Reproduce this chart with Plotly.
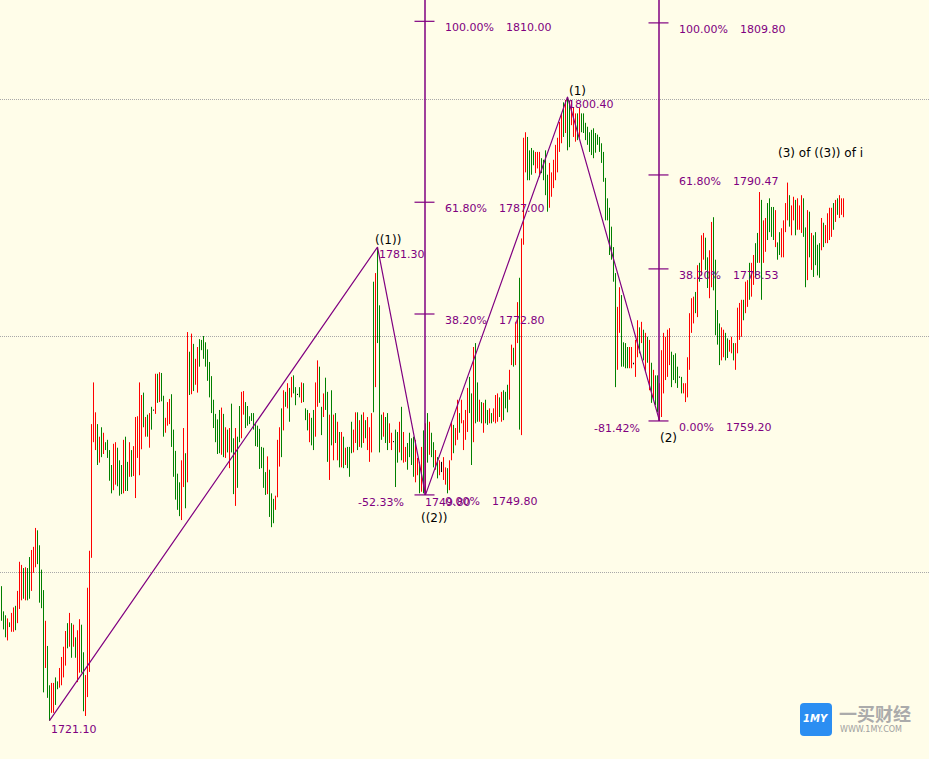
import plotly.graph_objects as go

# ---------------- data ----------------
bar_high = [
    1738.2, 1735.0, 1734.5, 1734.1, 1733.6, 1734.8, 1735.5, 1735.7, 1737.6, 1741.3,
    1740.9, 1740.5, 1740.6, 1740.5, 1741.9, 1742.8, 1743.2, 1745.6, 1745.3, 1743.4,
    1740.3, 1737.7, 1733.8, 1730.6, 1725.6, 1725.9, 1725.9, 1726.6, 1726.1, 1727.8,
    1729.2, 1730.5, 1732.5, 1733.5, 1734.8, 1733.5, 1733.3, 1731.7, 1732.6, 1734.0,
    1733.3, 1729.8, 1726.9, 1738.0, 1742.7, 1758.8, 1764.1, 1760.3, 1758.8, 1757.2,
    1758.4, 1757.7, 1756.5, 1756.8, 1755.5, 1753.6, 1756.3, 1756.5, 1755.8, 1754.2,
    1753.6, 1756.8, 1757.2, 1754.0, 1756.5, 1755.5, 1756.0, 1759.7, 1759.8, 1764.1,
    1762.5, 1762.8, 1759.7, 1760.0, 1760.2, 1761.0, 1760.6, 1765.2, 1765.2, 1765.4,
    1765.3, 1762.4, 1759.6, 1761.6, 1762.0, 1762.6, 1758.1, 1755.4, 1752.5, 1751.4,
    1754.2, 1758.3, 1755.1, 1770.5, 1768.0, 1770.3, 1769.0, 1767.1, 1768.6, 1769.6,
    1769.5, 1770.0, 1769.2, 1768.3, 1766.7, 1764.9, 1761.9, 1760.1, 1759.4, 1760.6,
    1760.9, 1760.1, 1758.4, 1758.1, 1758.3, 1761.4, 1757.0, 1758.3, 1757.2, 1761.1,
    1762.9, 1763.0, 1761.6, 1761.1, 1759.8, 1760.2, 1760.2, 1758.8, 1758.6, 1758.2,
    1755.9, 1755.8, 1752.7, 1754.7, 1753.0, 1750.0, 1749.3, 1749.7, 1756.8, 1758.4,
    1760.8, 1763.1, 1762.9, 1764.0, 1763.4, 1764.8, 1765.0, 1763.5, 1762.6, 1763.5,
    1764.1, 1764.0, 1760.8, 1760.6, 1760.2, 1759.6, 1760.6, 1764.1, 1766.9, 1766.1,
    1761.0, 1762.7, 1764.7, 1762.9, 1760.0, 1763.1, 1760.0, 1760.2, 1759.1, 1757.8,
    1757.8, 1757.2, 1755.8, 1755.9, 1755.9, 1759.1, 1758.1, 1760.3, 1760.3, 1759.3,
    1760.0, 1760.3, 1759.3, 1759.7, 1758.4, 1760.2, 1776.9, 1778.0, 1781.3, 1773.9,
    1760.0, 1760.3, 1759.7, 1760.2, 1758.9, 1757.7, 1756.6, 1758.1, 1757.8, 1759.1,
    1761.0, 1757.8, 1755.9, 1756.4, 1757.7, 1757.0, 1757.2, 1756.8, 1754.5, 1754.0,
    1755.9, 1758.0, 1758.9, 1760.2, 1759.1, 1757.7, 1756.5, 1755.5, 1754.6, 1754.2,
    1754.0, 1754.6, 1753.3, 1753.2, 1754.2, 1759.1, 1758.7, 1758.3, 1761.9, 1760.2,
    1761.9, 1759.3, 1760.6, 1763.4, 1764.8, 1762.7, 1768.6, 1769.1, 1764.1, 1761.9,
    1761.6, 1761.5, 1761.9, 1760.6, 1760.8, 1760.2, 1760.8, 1762.5, 1762.7, 1762.2,
    1762.9, 1763.1, 1762.9, 1763.8, 1765.7, 1768.9, 1768.5, 1771.8, 1774.3, 1777.4,
    1782.4, 1795.2, 1795.9, 1795.3, 1793.6, 1793.9, 1793.6, 1793.4, 1793.4, 1793.4,
    1792.6, 1792.4, 1793.6, 1790.5, 1792.0, 1790.8, 1792.4, 1794.3, 1795.2, 1797.2,
    1798.3, 1799.7, 1800.0, 1800.4, 1799.9, 1800.0, 1799.1, 1798.3, 1798.3, 1799.0,
    1798.3, 1798.3, 1797.1, 1796.6, 1795.9, 1796.2, 1796.4, 1795.8, 1795.6, 1795.3,
    1794.5, 1793.4, 1790.1, 1787.5, 1786.3, 1783.9, 1781.3, 1778.0, 1773.7, 1776.2,
    1775.2, 1769.2, 1769.1, 1768.6, 1768.6, 1768.6, 1766.6, 1769.5, 1772.0, 1771.1,
    1771.8, 1770.8, 1770.4, 1769.9, 1769.5, 1766.6, 1765.7, 1765.0, 1765.0, 1764.0,
    1768.2, 1770.4, 1769.9, 1770.8, 1771.0, 1768.0, 1767.6, 1767.8, 1766.1, 1764.8,
    1764.8, 1764.0, 1764.0, 1767.3, 1772.9, 1774.8, 1775.0, 1775.6, 1779.0, 1779.3,
    1782.8, 1783.1, 1782.5, 1780.0, 1780.9, 1784.5, 1785.1, 1779.7, 1773.3, 1771.6,
    1771.1, 1770.8, 1770.4, 1769.7, 1769.5, 1769.9, 1769.1, 1769.1, 1773.6, 1774.2,
    1774.6, 1774.6, 1776.9, 1777.1, 1779.3, 1779.3, 1780.3, 1781.8, 1783.1, 1788.3,
    1787.3, 1784.7, 1785.0, 1786.9, 1787.5, 1786.4, 1786.4, 1786.0, 1781.9, 1783.2,
    1783.7, 1784.7, 1786.9, 1789.5, 1787.9, 1786.6, 1787.7, 1787.3, 1787.5, 1786.6,
    1787.9, 1787.5, 1783.8, 1786.0, 1785.8, 1783.1, 1782.8, 1783.2, 1781.6, 1781.8,
    1785.0, 1784.4, 1784.1, 1785.6, 1786.3, 1786.3, 1786.9, 1787.3, 1787.5, 1787.9,
    1787.5, 1787.5,
]
bar_low = [
    1733.8, 1732.7, 1731.7, 1731.3, 1733.0, 1732.4, 1732.4, 1732.6, 1733.5, 1735.3,
    1736.4, 1736.6, 1736.4, 1736.4, 1736.6, 1737.6, 1739.9, 1740.6, 1741.0, 1736.1,
    1735.4, 1724.7, 1727.8, 1724.0, 1721.1, 1722.1, 1722.1, 1723.1, 1725.1, 1725.3,
    1725.6, 1726.6, 1728.1, 1730.3, 1730.5, 1729.1, 1730.5, 1729.1, 1726.0, 1727.2,
    1727.2, 1722.3, 1721.7, 1724.1, 1727.3, 1741.8, 1756.5, 1755.5, 1753.6, 1753.9,
    1754.6, 1755.0, 1755.5, 1754.5, 1751.6, 1750.0, 1750.4, 1751.1, 1750.9, 1749.7,
    1749.9, 1750.0, 1750.3, 1750.3, 1752.1, 1752.1, 1752.2, 1749.4, 1754.5, 1752.3,
    1755.6, 1758.4, 1757.2, 1757.2, 1755.8, 1758.1, 1760.5, 1760.1, 1761.5, 1761.6,
    1761.7, 1757.2, 1757.7, 1758.6, 1758.8, 1755.9, 1752.1, 1749.2, 1747.9, 1747.1,
    1746.6, 1750.8, 1748.1, 1751.4, 1762.5, 1762.6, 1763.0, 1763.8, 1762.8, 1766.1,
    1768.2, 1767.1, 1766.1, 1764.3, 1762.2, 1760.2, 1758.3, 1756.5, 1755.0, 1755.1,
    1754.9, 1754.6, 1754.5, 1755.2, 1753.2, 1755.2, 1749.9, 1748.4, 1750.7, 1756.5,
    1757.0, 1760.0, 1758.3, 1758.6, 1758.8, 1759.2, 1758.1, 1756.0, 1755.9, 1753.1,
    1753.2, 1750.7, 1749.8, 1749.9, 1747.0, 1745.7, 1746.2, 1747.9, 1749.5, 1753.4,
    1754.6, 1758.0, 1761.0, 1760.8, 1759.1, 1762.2, 1762.7, 1761.2, 1762.5, 1762.2,
    1761.5, 1761.6, 1759.3, 1758.0, 1756.5, 1756.1, 1755.5, 1757.2, 1761.0, 1761.5,
    1757.4, 1759.7, 1760.6, 1754.0, 1751.7, 1756.1, 1754.2, 1756.4, 1754.2, 1753.3,
    1753.3, 1753.2, 1753.6, 1753.2, 1752.1, 1755.1, 1755.2, 1756.4, 1755.5, 1755.9,
    1755.8, 1756.4, 1757.0, 1755.5, 1754.0, 1755.2, 1760.3, 1763.5, 1769.1, 1755.2,
    1756.8, 1757.2, 1756.4, 1755.5, 1756.4, 1755.5, 1756.5, 1750.8, 1753.9, 1755.2,
    1754.2, 1753.9, 1754.0, 1753.0, 1754.6, 1753.6, 1752.1, 1751.4, 1752.3, 1750.0,
    1750.2, 1750.0, 1749.8, 1753.9, 1754.9, 1754.6, 1753.3, 1753.0, 1751.9, 1752.3,
    1752.7, 1751.7, 1751.1, 1750.0, 1750.4, 1754.2, 1755.1, 1756.1, 1756.8, 1757.7,
    1758.9, 1755.5, 1756.8, 1757.8, 1760.2, 1753.6, 1756.5, 1758.9, 1759.1, 1759.1,
    1758.9, 1757.7, 1758.9, 1758.7, 1758.9, 1758.9, 1759.1, 1758.9, 1759.1, 1759.7,
    1759.1, 1759.3, 1760.8, 1760.3, 1761.9, 1766.3, 1766.1, 1766.3, 1769.1, 1758.1,
    1757.4, 1781.6, 1790.8, 1789.8, 1789.8, 1790.5, 1791.7, 1790.7, 1791.3, 1790.2,
    1790.7, 1789.8, 1787.9, 1785.8, 1786.3, 1787.7, 1788.8, 1789.8, 1790.8, 1793.4,
    1794.5, 1795.3, 1795.8, 1793.6, 1794.0, 1796.8, 1795.3, 1794.7, 1794.9, 1795.2,
    1795.9, 1795.8, 1794.9, 1794.3, 1793.4, 1793.0, 1792.6, 1793.3, 1794.3, 1793.4,
    1792.0, 1789.6, 1784.7, 1784.7, 1780.3, 1779.7, 1776.9, 1763.5, 1765.7, 1770.4,
    1766.1, 1766.1, 1765.9, 1765.9, 1765.9, 1765.9, 1766.4, 1764.8, 1767.3, 1767.8,
    1769.1, 1766.9, 1765.4, 1766.6, 1763.1, 1761.5, 1761.9, 1761.2, 1760.3, 1759.2,
    1759.7, 1762.7, 1764.4, 1764.8, 1766.3, 1763.5, 1764.4, 1764.0, 1763.4, 1764.7,
    1762.7, 1762.7, 1761.6, 1762.2, 1765.7, 1770.4, 1771.6, 1772.9, 1772.4, 1776.9,
    1777.7, 1779.7, 1778.4, 1776.1, 1774.8, 1776.2, 1775.8, 1770.1, 1768.9, 1766.3,
    1766.9, 1767.3, 1766.9, 1767.2, 1768.0, 1767.8, 1766.9, 1765.7, 1767.8, 1769.5,
    1769.9, 1772.0, 1772.9, 1773.7, 1774.6, 1775.0, 1776.5, 1777.5, 1779.3, 1779.3,
    1774.6, 1779.3, 1780.7, 1782.2, 1783.2, 1782.6, 1782.2, 1781.3, 1779.7, 1780.3,
    1780.0, 1780.0, 1783.2, 1784.7, 1783.9, 1782.8, 1784.7, 1782.8, 1783.5, 1783.5,
    1783.1, 1782.6, 1776.2, 1777.1, 1780.0, 1778.4, 1777.5, 1779.0, 1777.7, 1777.4,
    1780.9, 1781.3, 1781.8, 1781.8, 1782.2, 1782.6, 1783.5, 1784.5, 1785.4, 1785.0,
    1785.4, 1785.1,
]
# bar colour code per bar: r = red, g = green, k = black (unchanged)
bar_code = (
    "gggrgrrgrr" "rgrggrrrgg" "ggrggrrggr" "rrrgrgrgrr" "ggrrrrrrgr"
    "grggggrrgg" "grggrgrrrr" "rgrgrgkrgr" "ggrrrggggg" "rrgrgrgrrg"
    "gggggggggg" "rgrgrggrgg" "rrgggggggg" "gggrgggrrr" "grgrgrggkg"
    "rgggrggrrg" "grggrgrgrg" "rgrgggrrgr" "grgrrrgrgg" "grggrrkggr"
    "grrggggrrg" "rgrgrggrgr" "krrgrrgrrg" "rrrrggrggr" "grggrgrrrg"
    "rgggrrgrrg" "rrrggggrrr" "ggggrrrrrr" "rgrggrrrgr" "gggggggggg"
    "ggggggggrr" "ggggrrkrrg" "rgrgrgrggr" "rrrrrggggk" "grrrrrrgrg"
    "rrggrrgggg" "rrggrrgrrr" "rgrrgrrggr" "grrggggrgg" "rrrrgrrgrr"
    "rggrgrgggg" "rgrrrrgrgr" "rr"
)

# Elliott wave pivots (bar index, price, label)
wave_idx = [24, 188, 212, 283, 329]
wave_price = [1721.10, 1781.30, 1749.80, 1800.40, 1759.20]
wave_label = ["", "((1))", "((2))", "(1)", "(2)"]

fib_ratios = [1.0, 0.618, 0.382, 0.0]
grid_prices = [1740, 1770, 1800]
note_text = "(3) of ((3)) of i"

# ---------------- styling ----------------
BG = "#FFFDE9"
PURPLE = "#800080"
RED = "#FF0000"
GREEN = "#008000"
FONT = "DejaVu Sans"
W, H = 929, 759
X_RANGE = [-0.75, 463.75]
Y_RANGE = [1716.23, 1812.71]

n = len(bar_high)
assert n == len(bar_low) == len(bar_code)

fig = go.Figure()

cols = {"r": RED, "g": GREEN, "k": "#000000"}
for code, col in cols.items():
    xs, ys = [], []
    for i in range(n):
        if bar_code[i] != code:
            continue
        lo, hi = bar_low[i], bar_high[i]
        if hi - lo < 0.15:
            hi = lo + 0.15
        xs += [i, i, None]
        ys += [lo, hi, None]
    fig.add_trace(go.Scatter(x=xs, y=ys, mode="lines",
                             line=dict(color=col, width=1),
                             hoverinfo="skip", showlegend=False))

# wave line
fig.add_trace(go.Scatter(x=wave_idx, y=wave_price, mode="lines",
                         line=dict(color=PURPLE, width=1.2),
                         hoverinfo="skip", showlegend=False))

ann = []
shapes = []


def txt(x, y, text, color=PURPLE, xanchor="left", yanchor="top", xshift=0, yshift=0, size=11):
    ann.append(dict(x=x, y=y, xref="x", yref="y", text=text, showarrow=False,
                    xanchor=xanchor, yanchor=yanchor, xshift=xshift, yshift=yshift,
                    borderpad=0,
                    font=dict(family=FONT, size=size, color=color)))


# Fibonacci projections: fib1 at ((2)) using wave ((1)) length, fib2 at (2) using wave (1) length
fib_sets = [
    (wave_idx[2], wave_price[2], wave_price[1] - wave_price[0]),
    (wave_idx[4], wave_price[4], wave_price[3] - wave_price[2]),
]
for xi, base, rng in fib_sets:
    shapes.append(dict(type="line", xref="x", yref="y", x0=xi - 0.25, x1=xi - 0.25,
                       y0=base, y1=Y_RANGE[1] + 2, line=dict(color=PURPLE, width=1.5)))
    for r in fib_ratios:
        lvl = base + r * rng
        shapes.append(dict(type="line", xref="x", yref="y", x0=xi - 5.5, x1=xi + 4.5,
                           y0=lvl, y1=lvl, line=dict(color=PURPLE, width=1.2)))
        pct = f"{r * 100:.2f}%"
        txt(xi, lvl, pct, xshift=18, yshift=1)
        txt(xi, lvl, f"{lvl:.2f}", xshift=18 + 7.1 * len(pct) + 12, yshift=1)

# wave labels
BLACK_SIZE = 12
txt(wave_idx[0], wave_price[0], f"{wave_price[0]:.2f}", yshift=-1)
# ((1))
txt(wave_idx[1], wave_price[1], wave_label[1], color="#000000", yanchor="bottom",
    xshift=-4, yshift=-1, size=BLACK_SIZE)
txt(wave_idx[1], wave_price[1], f"{wave_price[1]:.2f}", xshift=0, yshift=0)
# ((2))
r2 = -(wave_price[1] - wave_price[2]) / (wave_price[1] - wave_price[0]) * 100
txt(wave_idx[2], wave_price[2], f"{r2:.2f}%", xanchor="right", xshift=-21, yshift=0)
txt(wave_idx[2], wave_price[2], f"{wave_price[2]:.2f}", xshift=-2, yshift=0)
txt(wave_idx[2], wave_price[2], wave_label[2], color="#000000", xshift=-6, yshift=-15,
    size=BLACK_SIZE)
# (1)
txt(wave_idx[3], wave_price[3], wave_label[3], color="#000000", yanchor="bottom",
    xshift=0, yshift=-2, size=BLACK_SIZE)
txt(wave_idx[3], wave_price[3], f"{wave_price[3]:.2f}", xshift=-1, yshift=0)
# (2)
r4 = -(wave_price[3] - wave_price[4]) / (wave_price[3] - wave_price[2]) * 100
txt(wave_idx[4], wave_price[4], f"{r4:.2f}%", xanchor="right", xshift=-19, yshift=0)
txt(wave_idx[4], wave_price[4], wave_label[4], color="#000000", xshift=-1, yshift=-9,
    size=BLACK_SIZE)

# note text
txt(388.3, 1793.3, note_text, color="#000000", yanchor="middle", xshift=-1, size=BLACK_SIZE)


# ---------------- logo (decoration, paper coordinates) ----------------
def px(x):
    return x / W


def py(y):
    return 1 - y / H


x0, x1, y0, y1, rr = 800, 832, 703, 736, 4
path = (f"M {px(x0 + rr)} {py(y0)} L {px(x1 - rr)} {py(y0)} Q {px(x1)} {py(y0)} {px(x1)} {py(y0 + rr)} "
        f"L {px(x1)} {py(y1 - rr)} Q {px(x1)} {py(y1)} {px(x1 - rr)} {py(y1)} "
        f"L {px(x0 + rr)} {py(y1)} Q {px(x0)} {py(y1)} {px(x0)} {py(y1 - rr)} "
        f"L {px(x0)} {py(y0 + rr)} Q {px(x0)} {py(y0)} {px(x0 + rr)} {py(y0)} Z")
shapes.append(dict(type="path", xref="paper", yref="paper", path=path,
                   fillcolor="#2B8EF2", line=dict(width=0), layer="below"))
ann.append(dict(x=px(816), y=py(718), xref="paper", yref="paper", text="<b><i>1MY</i></b>",
                xanchor="center", yanchor="middle",
                showarrow=False, font=dict(family="DejaVu Sans", size=10, color="#FFFFFF")))
ann.append(dict(x=px(837), y=py(712.5), xref="paper", yref="paper", text="<b>一买财经</b>",
                xanchor="left", yanchor="middle", showarrow=False,
                font=dict(family="Noto Sans CJK SC", size=18, color="#ABABAB")))
ann.append(dict(x=px(838), y=py(729.5), xref="paper", yref="paper", text="WWW.1MY.COM",
                xanchor="left", yanchor="middle", showarrow=False,
                font=dict(family="DejaVu Sans", size=8, color="#A0A0A0")))

fig.update_layout(
    width=W, height=H, margin=dict(l=0, r=0, t=0, b=0),
    paper_bgcolor=BG, plot_bgcolor=BG,
    xaxis=dict(range=X_RANGE, visible=False, fixedrange=True),
    yaxis=dict(range=Y_RANGE, tickvals=grid_prices, showticklabels=False, ticks="",
               showgrid=True, gridcolor="#A8A8A8", griddash="1px,1px", gridwidth=1,
               zeroline=False, showline=False, fixedrange=True),
    shapes=shapes, annotations=ann, showlegend=False,
)

fig.write_html("out.html", config={"displayModeBar": False},
               post_script="document.body.style.margin='0';document.body.style.background='" + BG + "';")
